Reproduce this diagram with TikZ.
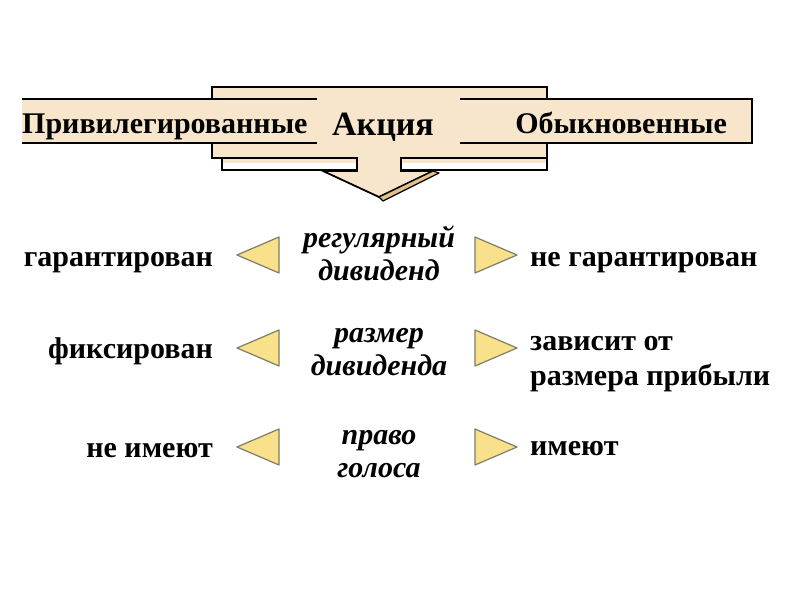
\documentclass[tikz,border=0pt]{standalone}
\usepackage{fontspec}
\setmainfont{Liberation Serif}
\definecolor{bannertan}{HTML}{F7E6CC}
\definecolor{sidetan}{HTML}{E2C08A}
\definecolor{triyellow}{HTML}{F9E08A}
\definecolor{trigray}{HTML}{7E7E66}
\begin{document}
\begin{tikzpicture}[x=1pt,y=-1pt,
  outl/.style={draw=black,line width=1.8pt},
  tri/.style={fill=triyellow,draw=trigray,line width=1.2pt,line join=round},
  hdr/.style={font=\fontsize{30}{33}\selectfont\bfseries,inner sep=0pt},
  hdrbig/.style={font=\fontsize{34}{38}\selectfont\bfseries,inner sep=0pt},
  lbl/.style={font=\fontsize{30}{35}\selectfont\bfseries,inner sep=0pt,align=left},
  midlbl/.style={font=\fontsize{30}{33}\selectfont\bfseries\itshape,inner sep=0pt,align=center}]
\fill[white] (0,0) rectangle (800,600);
\useasboundingbox (0,0) rectangle (800,600);
% extruded bottom strips of the block arrow
\draw[outl,fill=white] (222,158) rectangle (357,170);
\fill[bannertan] (223,159) rectangle (356,163);
\draw[outl,fill=white] (401,158) rectangle (547,170);
\fill[bannertan] (402,159) rectangle (546,163);
% front face of the block arrow
\draw[outl,fill=bannertan,line join=miter]
  (212,87) -- (547,87) -- (547,158) -- (401,158) -- (401,171) -- (433,171)
  -- (379,197) -- (323,171) -- (357,171) -- (357,158) -- (212,158) -- cycle;
% side face of the arrow head
\draw[draw=black,line width=1.2pt,fill=sidetan,line join=round]
  (379,197) -- (433,171) -- (439,173) -- (383,201) -- cycle;
% left banner
\fill[bannertan] (22,99) rectangle (317,143);
\draw[outl] (22,99) -- (317,99);
\draw[outl] (22,143) -- (317,143);
% right banner
\fill[bannertan] (460,99) rectangle (752,143);
\draw[outl] (460,99) -- (752,99) -- (752,143) -- (460,143);
% header texts
\node[hdr,anchor=base west] (pref) at (22,133) {Привилегированные};
\node[hdrbig,anchor=base] (akc) at (383,135) {Акция};
\node[hdr,anchor=base east] (obyk) at (727,133) {Обыкновенные};
% triangles
\draw[tri] (237,255) -- (279,237) -- (279,273) -- cycle;
\draw[tri] (517,255) -- (475,237) -- (475,273) -- cycle;
\draw[tri] (237,348) -- (279,330) -- (279,366) -- cycle;
\draw[tri] (517,348) -- (475,330) -- (475,366) -- cycle;
\draw[tri] (237,447) -- (279,429) -- (279,465) -- cycle;
\draw[tri] (517,447) -- (475,429) -- (475,465) -- cycle;
% left column
\node[lbl,anchor=base east] (l1) at (213,266) {гарантирован};
\node[lbl,anchor=base east] (l2) at (213,358) {фиксирован};
\node[lbl,anchor=base east] (l3) at (213,457) {не имеют};
% center column (base = last line)
\node[midlbl,anchor=base] (m1) at (379,280) {регулярный\\дивиденд};
\node[midlbl,anchor=base] (m2) at (379,375) {размер\\дивиденда};
\node[midlbl,anchor=base] (m3) at (379,477) {право\\голоса};
% right column
\node[lbl,anchor=base west] (r1) at (530,266) {не гарантирован};
\node[lbl,anchor=base west] (r2) at (530,385) {зависит от\\размера прибыли};
\node[lbl,anchor=base west] (r3) at (530,455) {имеют};
\end{tikzpicture}
\end{document}
